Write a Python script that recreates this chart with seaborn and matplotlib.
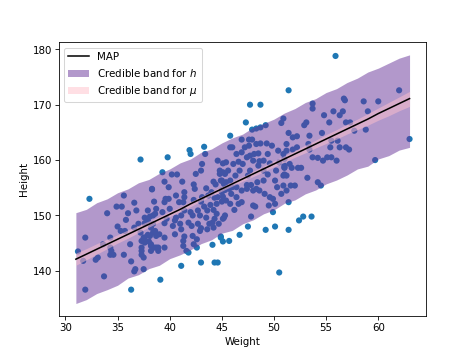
import numpy as np
import pandas as pd
import seaborn as sns
import matplotlib.pyplot as plt

weight = [32.3, 35.6, 38.3, 34.9, 35.4, 34.0, 36.6, 36.0, 36.8, 38.5, 38.1, 38.4, 35.8, 35.0, 35.3, 35.7,
          36.6, 37.0, 37.6, 38.2, 38.6, 31.9, 34.3, 36.2, 37.2, 37.5, 38.1, 38.0, 38.2, 31.2, 33.6, 34.3,
          34.4, 31.7, 32.9, 33.1, 34.3, 34.6, 35.6, 37.3, 37.3, 38.2, 38.5, 38.9, 36.3, 36.7, 36.6, 37.5,
          33.7, 31.9, 36.3, 39.1, 39.3, 40.2, 40.7, 37.2, 39.8, 41.9, 42.0, 43.3, 43.4, 45.8, 43.1, 43.0,
          42.5, 44.6, 45.1, 44.8, 45.3, 39.5, 41.2, 39.9, 42.3, 42.4, 43.5, 44.2, 44.4, 45.0, 45.2, 45.7,
          38.3, 39.6, 39.9, 40.6, 41.4, 41.4, 40.9, 41.3, 39.5, 42.3, 43.1, 43.0, 43.7, 44.0, 44.3, 45.0,
          45.3, 44.5, 45.0, 43.3, 43.6, 43.9, 44.2, 37.9, 38.7, 38.6, 39.3, 40.0, 40.6, 41.1, 41.4, 42.0,
          42.2, 42.7, 42.9, 43.5, 44.3, 44.5, 45.2, 37.6, 37.9, 38.4, 39.5, 39.7, 40.3, 40.5, 41.0, 41.1,
          41.8, 42.1, 42.7, 43.0, 43.8, 44.2, 44.7, 37.6, 37.9, 38.4, 38.7, 39.0, 39.5, 40.5, 41.4, 41.3,
          42.2, 42.6, 42.9, 43.6, 44.9, 45.1, 45.7, 37.3, 37.6, 38.2, 38.7, 38.9, 39.5, 41.3, 41.6, 42.3,
          42.6, 44.1, 37.3, 37.5, 41.8, 43.0, 44.3, 44.6, 41.1,
          47.7, 48.7, 47.3, 51.4, 50.9, 50.7, 47.9, 48.3, 48.7, 49.2, 46.9, 47.6, 47.9, 51.4, 51.8, 45.8,
          46.0, 47.2, 47.6, 48.3, 48.7, 49.3, 49.8, 50.4, 50.9, 51.2, 51.8, 46.4, 46.9, 47.4, 47.7, 48.1,
          48.5, 49.4, 45.4, 46.1, 46.6, 47.0, 48.0, 48.6, 49.0, 49.6, 50.5, 51.0, 51.0, 44.8, 45.1, 45.6,
          46.7, 46.3, 47.7, 47.5, 48.5, 49.0, 49.4, 50.2, 50.9, 51.2, 44.9, 45.4, 45.8, 46.0, 46.4, 47.4,
          47.8, 48.4, 49.0, 50.1, 50.3, 50.9, 51.6, 52.0, 45.0, 45.1, 44.6, 45.9, 46.4, 46.9, 47.4, 48.0,
          48.3, 48.6, 49.1, 49.6, 49.9, 50.1, 50.7, 51.2, 51.4, 45.4, 45.8, 46.9, 46.6, 48.0, 48.2, 49.5,
          46.2, 45.1, 45.3, 47.8, 49.9, 47.5, 49.2, 50.1, 51.4, 44.9, 46.7, 44.1, 52.4, 50.5, 52.8, 53.6,
          54.2, 54.5, 53.2,
          55.9, 53.7, 53.7, 56.7, 56.8, 54.8, 55.7, 56.6, 56.3, 53.1, 52.9, 55.3, 56.9, 57.3, 52.2, 53.4,
          53.3, 54.6, 55.5, 56.1, 51.2, 52.2, 55.4, 56.3, 56.9, 57.2, 53.4, 53.7, 54.2, 54.7, 55.1, 55.5,
          56.0, 51.0, 51.5, 51.0, 51.7, 52.3, 52.6, 51.0, 62.0, 58.6, 60.0, 59.0, 58.8, 57.7, 63.0, 59.7]
height = [153.0, 153.6, 154.7, 151.6, 151.6, 150.4, 152.3, 150.4, 150.9, 152.5, 149.8, 150.0, 149.2, 148.0, 147.2, 147.2,
          147.8, 148.5, 148.6, 147.8, 147.2, 146.0, 146.0, 144.8, 146.9, 146.0, 146.3, 145.3, 144.8, 143.5, 144.8, 144.2,
          143.6, 141.8, 142.0, 142.4, 142.9, 142.9, 142.9, 144.2, 142.9, 143.6, 144.2, 144.2, 141.7, 140.3, 139.9, 140.3,
          139.0, 136.6, 136.6, 138.4, 157.8, 157.4, 157.4, 160.1, 160.5, 161.8, 161.1, 162.4, 161.1, 164.4, 159.3, 158.1,
          157.5, 159.9, 159.4, 157.5, 157.5, 156.1, 156.1, 155.1, 155.6, 154.8, 154.9, 156.1, 155.6, 156.3, 155.7, 154.8,
          154.8, 153.0, 153.0, 153.6, 154.2, 153.3, 152.4, 152.4, 152.4, 152.8, 153.3, 152.5, 153.6, 154.2, 153.2, 154.2,
          154.6, 152.1, 152.5, 151.6, 150.9, 151.9, 151.0, 150.9, 151.2, 150.3, 150.6, 151.2, 149.6, 150.0, 150.9, 150.6,
          150.0, 150.9, 150.0, 149.6, 149.4, 150.3, 149.6, 149.6, 149.1, 148.5, 148.6, 149.4, 148.1, 149.1, 148.5, 147.5,
          148.7, 148.1, 148.5, 147.7, 148.5, 147.8, 148.5, 146.0, 146.5, 146.9, 146.3, 146.6, 146.0, 146.6, 146.2, 145.4,
          146.3, 145.7, 147.2, 147.5, 146.0, 145.3, 145.4, 145.4, 145.1, 144.5, 144.2, 143.6, 144.2, 144.5, 143.6, 144.8,
          144.2, 144.7, 143.6, 142.4, 143.3, 141.5, 141.5, 141.5, 140.9,
          170.0, 170.0, 166.8, 172.6, 167.5, 166.7, 165.5, 165.7, 165.9, 166.3, 163.7, 163.7, 163.7, 164.9, 164.1, 162.3,
          162.3, 162.3, 162.6, 162.9, 163.0, 163.0, 162.6, 161.7, 161.1, 162.9, 161.9, 161.1, 161.4, 160.5, 160.8, 161.1,
          161.2, 161.1, 159.6, 159.3, 159.7, 159.3, 159.9, 159.8, 159.9, 159.4, 159.6, 159.0, 158.6, 158.1, 157.8, 158.1,
          158.1, 157.2, 158.1, 157.2, 159.0, 158.1, 157.4, 158.1, 157.2, 157.2, 156.3, 156.0, 156.3, 155.1, 155.1, 155.5,
          155.5, 156.0, 156.3, 156.3, 155.1, 155.4, 155.4, 155.4, 154.5, 153.4, 153.3, 153.9, 153.3, 154.5, 154.8, 154.5,
          154.8, 154.5, 153.9, 153.3, 153.0, 152.1, 153.9, 154.5, 152.4, 152.7, 152.1, 152.4, 152.1, 151.8, 151.6, 151.8,
          151.0, 149.4, 150.0, 149.8, 150.6, 148.0, 147.4, 148.0, 147.4, 146.2, 146.5, 148.7, 149.1, 139.7, 149.8, 149.8,
          156.0, 155.4, 156.8,
          178.8, 170.2, 169.3, 171.1, 170.8, 168.1, 168.8, 168.8, 168.1, 166.8, 166.3, 166.8, 166.8, 166.8, 164.3, 164.4,
          162.9, 164.9, 163.5, 163.5, 161.7, 162.3, 162.3, 162.3, 162.3, 161.9, 161.9, 160.5, 160.4, 159.9, 160.5, 160.5,
          159.9, 160.2, 159.3, 158.7, 158.6, 158.6, 158.6, 157.4, 172.6, 170.6, 170.6, 168.8, 165.5, 165.3, 163.8, 160.0]

# posterior summaries along the weight grid
weight_grid = [31, 32, 33, 34, 35, 36, 37, 38, 39, 40, 41, 42, 43, 44, 45, 46, 47,
               48, 49, 50, 51, 52, 53, 54, 55, 56, 57, 58, 59, 60, 61, 62, 63]
mu_map = [142.1, 143.0, 143.9, 144.8, 145.7, 146.6, 147.5, 148.4, 149.3, 150.2, 151.1, 152.1, 153.0, 153.9, 154.8, 155.7, 156.6,
          157.5, 158.4, 159.3, 160.2, 161.1, 162.0, 162.9, 163.8, 164.7, 165.6, 166.5, 167.4, 168.4, 169.3, 170.2, 171.1]
h_low = [134.1, 134.8, 135.9, 136.6, 137.4, 138.7, 139.3, 140.4, 141.0, 142.2, 142.9, 143.8, 144.9, 145.6, 146.8, 147.3, 148.5,
         149.2, 150.3, 151.0, 152.2, 152.8, 153.9, 154.6, 155.7, 156.4, 157.3, 158.4, 158.9, 160.2, 160.8, 161.8, 162.3]
h_high = [150.5, 151.1, 152.3, 153.0, 154.1, 154.8, 155.9, 156.5, 157.6, 158.4, 159.5, 160.2, 161.4, 162.0, 163.1, 164.0, 164.7,
          165.9, 166.6, 167.4, 168.5, 169.3, 170.4, 171.1, 172.2, 172.9, 174.0, 174.8, 175.9, 176.6, 177.5, 178.4, 179.0]
mu_low = [141.0, 142.0, 143.0, 144.0, 145.0, 145.9, 146.9, 147.9, 148.8, 149.8, 150.7, 151.6, 152.6, 153.5, 154.4, 155.3, 156.2,
          157.0, 157.9, 158.8, 159.6, 160.5, 161.3, 162.2, 163.0, 163.8, 164.7, 165.5, 166.3, 167.2, 168.0, 168.9, 169.7]
mu_high = [143.2, 144.0, 144.9, 145.7, 146.5, 147.4, 148.2, 149.0, 149.8, 150.7, 151.5, 152.5, 153.4, 154.3, 155.2, 156.1, 157.0,
           158.0, 158.9, 159.9, 160.8, 161.7, 162.7, 163.6, 164.6, 165.5, 166.5, 167.4, 168.4, 169.4, 170.4, 171.4, 172.4]

df = pd.DataFrame({"weight": weight, "height": height})

fig, ax = plt.subplots(figsize=(6.4, 4.8), dpi=74)

sns.scatterplot(x="weight", y="height", data=df, ax=ax, color="C0", s=36, edgecolor="none")
ax.plot(weight_grid, mu_map, color="black", label="MAP")
ax.fill_between(weight_grid, h_low, h_high, color="rebeccapurple", alpha=0.5, linewidth=0,
                label=r"Credible band for $h$")
ax.fill_between(weight_grid, mu_low, mu_high, color="pink", alpha=0.5, linewidth=0,
                label=r"Credible band for $\mu$")

ax.set_xlabel("Weight")
ax.set_ylabel("Height")
ax.legend(loc="upper left")

plt.savefig("out.png", dpi=74)
